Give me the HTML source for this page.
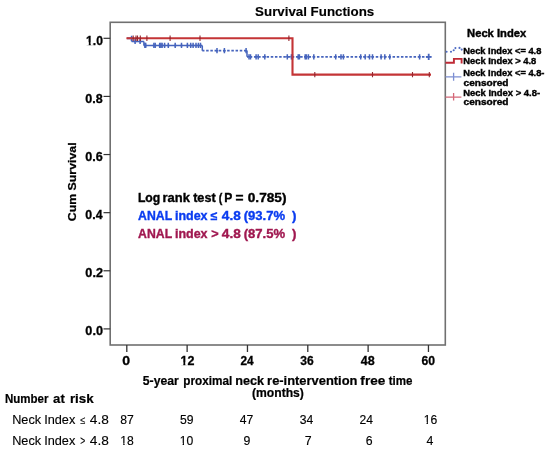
<!DOCTYPE html>
<html><head><meta charset="utf-8"><title>Survival Functions</title>
<style>html,body{margin:0;padding:0;background:#fff;width:550px;height:452px;overflow:hidden}</style>
</head><body>
<svg width="550" height="452" viewBox="0 0 550 452" style="display:block">
<rect width="550" height="452" fill="#fff"/>
<text x="255.14" y="15.8" font-family='"Liberation Sans", Arial, sans-serif' font-weight="bold" font-size="13.1" fill="#000" stroke="#000" stroke-width="0.15" textLength="119.08" lengthAdjust="spacingAndGlyphs" xml:space="preserve">Survival Functions</text>
<rect x="110.2" y="22.3" width="335.1" height="322.7" fill="none" stroke="#707070" stroke-width="1.6"/>
<line x1="103.5" y1="38.30" x2="110.2" y2="38.30" stroke="#333" stroke-width="1.2"/>
<text x="86.09" y="44.7" font-family='"Liberation Sans", Arial, sans-serif' font-weight="bold" font-size="12.8" fill="#000" stroke="#000" stroke-width="0.3" textLength="16.86" lengthAdjust="spacingAndGlyphs" xml:space="preserve">1.0</text>
<line x1="103.5" y1="96.42" x2="110.2" y2="96.42" stroke="#333" stroke-width="1.2"/>
<text x="85.35" y="102.82" font-family='"Liberation Sans", Arial, sans-serif' font-weight="bold" font-size="12.8" fill="#000" stroke="#000" stroke-width="0.3" textLength="17.48" lengthAdjust="spacingAndGlyphs" xml:space="preserve">0.8</text>
<line x1="103.5" y1="154.54" x2="110.2" y2="154.54" stroke="#333" stroke-width="1.2"/>
<text x="85.35" y="160.94" font-family='"Liberation Sans", Arial, sans-serif' font-weight="bold" font-size="12.8" fill="#000" stroke="#000" stroke-width="0.3" textLength="17.56" lengthAdjust="spacingAndGlyphs" xml:space="preserve">0.6</text>
<line x1="103.5" y1="212.66" x2="110.2" y2="212.66" stroke="#333" stroke-width="1.2"/>
<text x="85.36" y="219.06" font-family='"Liberation Sans", Arial, sans-serif' font-weight="bold" font-size="12.8" fill="#000" stroke="#000" stroke-width="0.3" textLength="17.15" lengthAdjust="spacingAndGlyphs" xml:space="preserve">0.4</text>
<line x1="103.5" y1="270.78" x2="110.2" y2="270.78" stroke="#333" stroke-width="1.2"/>
<text x="85.35" y="277.18" font-family='"Liberation Sans", Arial, sans-serif' font-weight="bold" font-size="12.8" fill="#000" stroke="#000" stroke-width="0.3" textLength="17.61" lengthAdjust="spacingAndGlyphs" xml:space="preserve">0.2</text>
<line x1="103.5" y1="328.90" x2="110.2" y2="328.90" stroke="#333" stroke-width="1.2"/>
<text x="85.35" y="335.3" font-family='"Liberation Sans", Arial, sans-serif' font-weight="bold" font-size="12.8" fill="#000" stroke="#000" stroke-width="0.3" textLength="17.62" lengthAdjust="spacingAndGlyphs" xml:space="preserve">0.0</text>
<line x1="126.80" y1="345" x2="126.80" y2="352" stroke="#333" stroke-width="1.3"/>
<text x="122.29" y="364.8" font-family='"Liberation Sans", Arial, sans-serif' font-weight="bold" font-size="13.2" fill="#000" stroke="#000" stroke-width="0.3" textLength="7.84" lengthAdjust="spacingAndGlyphs" xml:space="preserve">0</text>
<line x1="187.13" y1="345" x2="187.13" y2="352" stroke="#333" stroke-width="1.3"/>
<text x="180.56" y="364.8" font-family='"Liberation Sans", Arial, sans-serif' font-weight="bold" font-size="13.2" fill="#000" stroke="#000" stroke-width="0.3" textLength="13.89" lengthAdjust="spacingAndGlyphs" xml:space="preserve">12</text>
<line x1="247.46" y1="345" x2="247.46" y2="352" stroke="#333" stroke-width="1.3"/>
<text x="240.54" y="364.8" font-family='"Liberation Sans", Arial, sans-serif' font-weight="bold" font-size="13.2" fill="#000" stroke="#000" stroke-width="0.3" textLength="13.17" lengthAdjust="spacingAndGlyphs" xml:space="preserve">24</text>
<line x1="307.79" y1="345" x2="307.79" y2="352" stroke="#333" stroke-width="1.3"/>
<text x="300.27" y="364.8" font-family='"Liberation Sans", Arial, sans-serif' font-weight="bold" font-size="13.2" fill="#000" stroke="#000" stroke-width="0.3" textLength="13.41" lengthAdjust="spacingAndGlyphs" xml:space="preserve">36</text>
<line x1="368.12" y1="345" x2="368.12" y2="352" stroke="#333" stroke-width="1.3"/>
<text x="360.76" y="364.8" font-family='"Liberation Sans", Arial, sans-serif' font-weight="bold" font-size="13.2" fill="#000" stroke="#000" stroke-width="0.3" textLength="13.98" lengthAdjust="spacingAndGlyphs" xml:space="preserve">48</text>
<line x1="428.45" y1="345" x2="428.45" y2="352" stroke="#333" stroke-width="1.3"/>
<text x="421.60" y="364.8" font-family='"Liberation Sans", Arial, sans-serif' font-weight="bold" font-size="13.2" fill="#000" stroke="#000" stroke-width="0.3" textLength="13.55" lengthAdjust="spacingAndGlyphs" xml:space="preserve">60</text>
<text x="142.81" y="385.2" font-family='"Liberation Sans", Arial, sans-serif' font-weight="bold" font-size="12.3" fill="#000" stroke="#000" stroke-width="0.22" textLength="35.98" lengthAdjust="spacingAndGlyphs" xml:space="preserve">5-year</text>
<text x="183.32" y="385.2" font-family='"Liberation Sans", Arial, sans-serif' font-weight="bold" font-size="12.3" fill="#000" stroke="#000" stroke-width="0.22" textLength="48.92" lengthAdjust="spacingAndGlyphs" xml:space="preserve">proximal</text>
<text x="235.26" y="385.2" font-family='"Liberation Sans", Arial, sans-serif' font-weight="bold" font-size="12.3" fill="#000" stroke="#000" stroke-width="0.22" textLength="28.84" lengthAdjust="spacingAndGlyphs" xml:space="preserve">neck</text>
<text x="267.14" y="385.2" font-family='"Liberation Sans", Arial, sans-serif' font-weight="bold" font-size="12.3" fill="#000" stroke="#000" stroke-width="0.22" textLength="90.27" lengthAdjust="spacingAndGlyphs" xml:space="preserve">re-intervention</text>
<text x="360.36" y="385.2" font-family='"Liberation Sans", Arial, sans-serif' font-weight="bold" font-size="12.3" fill="#000" stroke="#000" stroke-width="0.22" textLength="24.92" lengthAdjust="spacingAndGlyphs" xml:space="preserve">free</text>
<text x="388.65" y="385.2" font-family='"Liberation Sans", Arial, sans-serif' font-weight="bold" font-size="12.3" fill="#000" stroke="#000" stroke-width="0.22" textLength="23.76" lengthAdjust="spacingAndGlyphs" xml:space="preserve">time</text>
<text x="251.99" y="397.1" font-family='"Liberation Sans", Arial, sans-serif' font-weight="bold" font-size="12.3" fill="#000" stroke="#000" stroke-width="0.22" textLength="51.93" lengthAdjust="spacingAndGlyphs" xml:space="preserve">(months)</text>
<text transform="translate(75.9,220.7) rotate(-90)" x="-0.51" y="0" font-family='"Liberation Sans", Arial, sans-serif' font-weight="bold" font-size="11.6" stroke="#000" stroke-width="0.25" textLength="78.78" lengthAdjust="spacingAndGlyphs">Cum Survival</text>
<line x1="127" y1="38.3" x2="131.6" y2="38.3" stroke="#4664bd" stroke-width="1.9"/>
<path d="M131.6,41.5 H143.9 M143.9,45.4 H202.3" stroke="#4664bd" stroke-width="1.5" fill="none"/>
<line x1="202.3" y1="50.7" x2="247" y2="50.7" stroke="#4664bd" stroke-width="1.7" stroke-dasharray="2.5 1.70" stroke-dashoffset="0.35"/>
<line x1="247" y1="56.8" x2="431.3" y2="56.8" stroke="#4664bd" stroke-width="1.7" stroke-dasharray="2.5 1.70" stroke-dashoffset="1.45"/>
<path d="M131.6,38.3 V41.5 M143.9,41.5 V45.4 M202.3,45.4 V50.7 M247,50.7 V56.8" stroke="#4664bd" stroke-width="1.5" fill="none"/>
<path d="M130.4,38.3 H132.79999999999998 M131.6,35.699999999999996 V40.9" stroke="#4664bd" stroke-width="1.5" fill="none"/>
<path d="M133.9,41.5 H136.29999999999998 M135.1,38.9 V44.1" stroke="#4664bd" stroke-width="1.5" fill="none"/>
<path d="M138.9,41.5 H141.29999999999998 M140.1,38.9 V44.1" stroke="#4664bd" stroke-width="1.5" fill="none"/>
<path d="M143.70000000000002,45.4 H146.1 M144.9,42.8 V48.0" stroke="#4664bd" stroke-width="1.5" fill="none"/>
<path d="M144.5,45.4 H146.89999999999998 M145.7,42.8 V48.0" stroke="#4664bd" stroke-width="1.5" fill="none"/>
<path d="M152.70000000000002,45.4 H155.1 M153.9,42.8 V48.0" stroke="#4664bd" stroke-width="1.5" fill="none"/>
<path d="M154.0,45.4 H156.39999999999998 M155.2,42.8 V48.0" stroke="#4664bd" stroke-width="1.5" fill="none"/>
<path d="M158.5,45.4 H160.89999999999998 M159.7,42.8 V48.0" stroke="#4664bd" stroke-width="1.5" fill="none"/>
<path d="M159.70000000000002,45.4 H162.1 M160.9,42.8 V48.0" stroke="#4664bd" stroke-width="1.5" fill="none"/>
<path d="M160.9,45.4 H163.29999999999998 M162.1,42.8 V48.0" stroke="#4664bd" stroke-width="1.5" fill="none"/>
<path d="M163.4,45.4 H165.79999999999998 M164.6,42.8 V48.0" stroke="#4664bd" stroke-width="1.5" fill="none"/>
<path d="M167.10000000000002,45.4 H169.5 M168.3,42.8 V48.0" stroke="#4664bd" stroke-width="1.5" fill="none"/>
<path d="M174.0,45.4 H176.39999999999998 M175.2,42.8 V48.0" stroke="#4664bd" stroke-width="1.5" fill="none"/>
<path d="M180.3,45.4 H182.7 M181.5,42.8 V48.0" stroke="#4664bd" stroke-width="1.5" fill="none"/>
<path d="M186.20000000000002,45.4 H188.6 M187.4,42.8 V48.0" stroke="#4664bd" stroke-width="1.5" fill="none"/>
<path d="M189.5,45.4 H191.89999999999998 M190.7,42.8 V48.0" stroke="#4664bd" stroke-width="1.5" fill="none"/>
<path d="M191.9,45.4 H194.29999999999998 M193.1,42.8 V48.0" stroke="#4664bd" stroke-width="1.5" fill="none"/>
<path d="M194.8,45.4 H197.2 M196,42.8 V48.0" stroke="#4664bd" stroke-width="1.5" fill="none"/>
<path d="M197.20000000000002,45.4 H199.6 M198.4,42.8 V48.0" stroke="#4664bd" stroke-width="1.5" fill="none"/>
<path d="M199.3,45.4 H201.7 M200.5,42.8 V48.0" stroke="#4664bd" stroke-width="1.5" fill="none"/>
<path d="M215.8,50.7 H218.2 M217,48.1 V53.300000000000004" stroke="#4664bd" stroke-width="1.5" fill="none"/>
<path d="M223.20000000000002,50.7 H225.6 M224.4,48.1 V53.300000000000004" stroke="#4664bd" stroke-width="1.5" fill="none"/>
<path d="M244.9,50.7 H247.29999999999998 M246.1,48.1 V53.300000000000004" stroke="#4664bd" stroke-width="1.5" fill="none"/>
<path d="M247.8,56.8 H250.2 M249,54.199999999999996 V59.4" stroke="#4664bd" stroke-width="1.5" fill="none"/>
<path d="M249.3,56.8 H251.7 M250.5,54.199999999999996 V59.4" stroke="#4664bd" stroke-width="1.5" fill="none"/>
<path d="M254.90000000000003,56.8 H257.3 M256.1,54.199999999999996 V59.4" stroke="#4664bd" stroke-width="1.5" fill="none"/>
<path d="M257.0,56.8 H259.4 M258.2,54.199999999999996 V59.4" stroke="#4664bd" stroke-width="1.5" fill="none"/>
<path d="M263.6,56.8 H266.0 M264.8,54.199999999999996 V59.4" stroke="#4664bd" stroke-width="1.5" fill="none"/>
<path d="M286.1,56.8 H288.5 M287.3,54.199999999999996 V59.4" stroke="#4664bd" stroke-width="1.5" fill="none"/>
<path d="M290.2,56.8 H292.59999999999997 M291.4,54.199999999999996 V59.4" stroke="#4664bd" stroke-width="1.5" fill="none"/>
<path d="M291.3,56.8 H293.7 M292.5,54.199999999999996 V59.4" stroke="#4664bd" stroke-width="1.5" fill="none"/>
<path d="M297.0,56.8 H299.4 M298.2,54.199999999999996 V59.4" stroke="#4664bd" stroke-width="1.5" fill="none"/>
<path d="M298.2,56.8 H300.59999999999997 M299.4,54.199999999999996 V59.4" stroke="#4664bd" stroke-width="1.5" fill="none"/>
<path d="M304.0,56.8 H306.4 M305.2,54.199999999999996 V59.4" stroke="#4664bd" stroke-width="1.5" fill="none"/>
<path d="M305.2,56.8 H307.59999999999997 M306.4,54.199999999999996 V59.4" stroke="#4664bd" stroke-width="1.5" fill="none"/>
<path d="M307.2,56.8 H309.59999999999997 M308.4,54.199999999999996 V59.4" stroke="#4664bd" stroke-width="1.5" fill="none"/>
<path d="M312.6,56.8 H315.0 M313.8,54.199999999999996 V59.4" stroke="#4664bd" stroke-width="1.5" fill="none"/>
<path d="M334.5,56.8 H336.9 M335.7,54.199999999999996 V59.4" stroke="#4664bd" stroke-width="1.5" fill="none"/>
<path d="M339.8,56.8 H342.2 M341,54.199999999999996 V59.4" stroke="#4664bd" stroke-width="1.5" fill="none"/>
<path d="M342.2,56.8 H344.59999999999997 M343.4,54.199999999999996 V59.4" stroke="#4664bd" stroke-width="1.5" fill="none"/>
<path d="M359.5,56.8 H361.9 M360.7,54.199999999999996 V59.4" stroke="#4664bd" stroke-width="1.5" fill="none"/>
<path d="M364.0,56.8 H366.4 M365.2,54.199999999999996 V59.4" stroke="#4664bd" stroke-width="1.5" fill="none"/>
<path d="M368.3,56.8 H370.7 M369.5,54.199999999999996 V59.4" stroke="#4664bd" stroke-width="1.5" fill="none"/>
<path d="M371.3,56.8 H373.7 M372.5,54.199999999999996 V59.4" stroke="#4664bd" stroke-width="1.5" fill="none"/>
<path d="M379.90000000000003,56.8 H382.3 M381.1,54.199999999999996 V59.4" stroke="#4664bd" stroke-width="1.5" fill="none"/>
<path d="M383.6,56.8 H386.0 M384.8,54.199999999999996 V59.4" stroke="#4664bd" stroke-width="1.5" fill="none"/>
<path d="M388.6,56.8 H391.0 M389.8,54.199999999999996 V59.4" stroke="#4664bd" stroke-width="1.5" fill="none"/>
<path d="M418.40000000000003,56.8 H420.8 M419.6,54.199999999999996 V59.4" stroke="#4664bd" stroke-width="1.5" fill="none"/>
<path d="M425.9,56.8 H431.5 M428.7,53.699999999999996 V59.9" stroke="#4664bd" stroke-width="1.8" fill="none"/>
<path d="M126.4,38.3 H292.5 V74.6 H431" fill="none" stroke="#c43436" stroke-width="2.1"/>
<path d="M132.39999999999998,38.3 H134.0 M133.2,35.599999999999994 V41.0" stroke="#962830" stroke-width="1.1" fill="none"/>
<path d="M135.2,38.3 H136.8 M136,35.599999999999994 V41.0" stroke="#962830" stroke-width="1.1" fill="none"/>
<path d="M136.7,38.3 H138.3 M137.5,35.599999999999994 V41.0" stroke="#962830" stroke-width="1.1" fill="none"/>
<path d="M139.5,38.3 H141.10000000000002 M140.3,35.599999999999994 V41.0" stroke="#962830" stroke-width="1.1" fill="none"/>
<path d="M146.1,38.3 H147.70000000000002 M146.9,35.599999999999994 V41.0" stroke="#962830" stroke-width="1.1" fill="none"/>
<path d="M169.29999999999998,38.3 H170.9 M170.1,35.599999999999994 V41.0" stroke="#962830" stroke-width="1.1" fill="none"/>
<path d="M199.2,38.3 H200.8 M200,35.599999999999994 V41.0" stroke="#962830" stroke-width="1.1" fill="none"/>
<path d="M288.09999999999997,38.3 H289.7 M288.9,35.599999999999994 V41.0" stroke="#962830" stroke-width="1.1" fill="none"/>
<path d="M314.0,74.6 H315.6 M314.8,71.89999999999999 V77.3" stroke="#962830" stroke-width="1.1" fill="none"/>
<path d="M371.7,74.6 H373.3 M372.5,71.89999999999999 V77.3" stroke="#962830" stroke-width="1.1" fill="none"/>
<path d="M411.7,74.6 H413.3 M412.5,71.89999999999999 V77.3" stroke="#962830" stroke-width="1.1" fill="none"/>
<path d="M428.5,74.6 H430.1 M429.3,71.89999999999999 V77.3" stroke="#962830" stroke-width="1.1" fill="none"/>
<text x="137.91" y="202" font-family='"Liberation Sans", Arial, sans-serif' font-weight="bold" font-size="12.2" fill="#000" stroke="#000" stroke-width="0.35" textLength="22.38" lengthAdjust="spacingAndGlyphs" xml:space="preserve">Log</text>
<text x="162.57" y="202" font-family='"Liberation Sans", Arial, sans-serif' font-weight="bold" font-size="12.2" fill="#000" stroke="#000" stroke-width="0.35" textLength="27.39" lengthAdjust="spacingAndGlyphs" xml:space="preserve">rank</text>
<text x="193.17" y="202" font-family='"Liberation Sans", Arial, sans-serif' font-weight="bold" font-size="12.2" fill="#000" stroke="#000" stroke-width="0.35" textLength="22.46" lengthAdjust="spacingAndGlyphs" xml:space="preserve">test</text>
<text x="218.79" y="202" font-family='"Liberation Sans", Arial, sans-serif' font-weight="bold" font-size="12.2" fill="#000" stroke="#000" stroke-width="0.35" textLength="3.60" lengthAdjust="spacingAndGlyphs" xml:space="preserve">(</text>
<text x="224.32" y="202" font-family='"Liberation Sans", Arial, sans-serif' font-weight="bold" font-size="12.2" fill="#000" stroke="#000" stroke-width="0.35" textLength="8.07" lengthAdjust="spacingAndGlyphs" xml:space="preserve">P</text>
<text x="235.46" y="202" font-family='"Liberation Sans", Arial, sans-serif' font-weight="bold" font-size="12.2" fill="#000" stroke="#000" stroke-width="0.35" textLength="7.98" lengthAdjust="spacingAndGlyphs" xml:space="preserve">=</text>
<text x="247.79" y="202" font-family='"Liberation Sans", Arial, sans-serif' font-weight="bold" font-size="12.2" fill="#000" stroke="#000" stroke-width="0.35" textLength="38.67" lengthAdjust="spacingAndGlyphs" xml:space="preserve">0.785)</text>
<text x="138.12" y="220.1" font-family='"Liberation Sans", Arial, sans-serif' font-weight="bold" font-size="12.2" fill="#0a3cf0" stroke="#0a3cf0" stroke-width="0.35" textLength="34.03" lengthAdjust="spacingAndGlyphs" xml:space="preserve">ANAL</text>
<text x="174.95" y="220.1" font-family='"Liberation Sans", Arial, sans-serif' font-weight="bold" font-size="12.2" fill="#0a3cf0" stroke="#0a3cf0" stroke-width="0.35" textLength="32.61" lengthAdjust="spacingAndGlyphs" xml:space="preserve">index</text>
<text x="210.83" y="220.1" font-family='"Liberation Sans", Arial, sans-serif' font-weight="bold" font-size="12.2" fill="#0a3cf0" stroke="#0a3cf0" stroke-width="0.35" textLength="6.74" lengthAdjust="spacingAndGlyphs" xml:space="preserve">≤</text>
<text x="221.82" y="220.1" font-family='"Liberation Sans", Arial, sans-serif' font-weight="bold" font-size="12.2" fill="#0a3cf0" stroke="#0a3cf0" stroke-width="0.35" textLength="18.98" lengthAdjust="spacingAndGlyphs" xml:space="preserve">4.8</text>
<text x="243.67" y="220.1" font-family='"Liberation Sans", Arial, sans-serif' font-weight="bold" font-size="12.2" fill="#0a3cf0" stroke="#0a3cf0" stroke-width="0.35" textLength="41.45" lengthAdjust="spacingAndGlyphs" xml:space="preserve">(93.7%</text>
<text x="292.11" y="220.1" font-family='"Liberation Sans", Arial, sans-serif' font-weight="bold" font-size="12.2" fill="#0a3cf0" stroke="#0a3cf0" stroke-width="0.35" textLength="4.42" lengthAdjust="spacingAndGlyphs" xml:space="preserve">)</text>
<text x="138.12" y="237.8" font-family='"Liberation Sans", Arial, sans-serif' font-weight="bold" font-size="12.2" fill="#a01850" stroke="#a01850" stroke-width="0.35" textLength="34.03" lengthAdjust="spacingAndGlyphs" xml:space="preserve">ANAL</text>
<text x="174.95" y="237.8" font-family='"Liberation Sans", Arial, sans-serif' font-weight="bold" font-size="12.2" fill="#a01850" stroke="#a01850" stroke-width="0.35" textLength="32.61" lengthAdjust="spacingAndGlyphs" xml:space="preserve">index</text>
<text x="211.29" y="237.8" font-family='"Liberation Sans", Arial, sans-serif' font-weight="bold" font-size="12.2" fill="#a01850" stroke="#a01850" stroke-width="0.35" textLength="7.39" lengthAdjust="spacingAndGlyphs" xml:space="preserve">&gt;</text>
<text x="221.82" y="237.8" font-family='"Liberation Sans", Arial, sans-serif' font-weight="bold" font-size="12.2" fill="#a01850" stroke="#a01850" stroke-width="0.35" textLength="18.98" lengthAdjust="spacingAndGlyphs" xml:space="preserve">4.8</text>
<text x="243.67" y="237.8" font-family='"Liberation Sans", Arial, sans-serif' font-weight="bold" font-size="12.2" fill="#a01850" stroke="#a01850" stroke-width="0.35" textLength="41.45" lengthAdjust="spacingAndGlyphs" xml:space="preserve">(87.5%</text>
<text x="292.11" y="237.8" font-family='"Liberation Sans", Arial, sans-serif' font-weight="bold" font-size="12.2" fill="#a01850" stroke="#a01850" stroke-width="0.35" textLength="4.42" lengthAdjust="spacingAndGlyphs" xml:space="preserve">)</text>
<text x="467.05" y="37" font-family='"Liberation Sans", Arial, sans-serif' font-weight="bold" font-size="11" fill="#000" stroke="#000" stroke-width="0.4" textLength="59.23" lengthAdjust="spacingAndGlyphs" xml:space="preserve">Neck Index</text>
<circle cx="446.6" cy="51.8" r="1.05" fill="#4f6cc4"/>
<circle cx="451" cy="51.8" r="1.05" fill="#4f6cc4"/>
<circle cx="453.7" cy="50.3" r="1.05" fill="#4f6cc4"/>
<circle cx="455.4" cy="48.1" r="1.05" fill="#4f6cc4"/>
<circle cx="459.5" cy="47.9" r="1.05" fill="#4f6cc4"/>
<circle cx="461.7" cy="49.6" r="1.05" fill="#4f6cc4"/>
<path d="M445.5,62.7 H453.9 V58.9 H461.6 V63.4" fill="none" stroke="#bf2a36" stroke-width="1.9"/>
<path d="M445.5,76.8 H461.4 M453.6,72.7 V80.7" stroke="#7d8fd2" stroke-width="1.3" fill="none"/>
<path d="M445.5,97.1 H461.4 M453.6,92.9 V100.5" stroke="#d46878" stroke-width="1.3" fill="none"/>
<text x="463.30" y="53.6" font-family='"Liberation Sans", Arial, sans-serif' font-weight="bold" font-size="8.3" fill="#000" stroke="#000" stroke-width="0.35" textLength="78.06" lengthAdjust="spacingAndGlyphs" xml:space="preserve">Neck Index &lt;= 4.8</text>
<text x="463.30" y="64.3" font-family='"Liberation Sans", Arial, sans-serif' font-weight="bold" font-size="8.3" fill="#000" stroke="#000" stroke-width="0.35" textLength="72.96" lengthAdjust="spacingAndGlyphs" xml:space="preserve">Neck Index &gt; 4.8</text>
<text x="463.30" y="75.9" font-family='"Liberation Sans", Arial, sans-serif' font-weight="bold" font-size="8.3" fill="#000" stroke="#000" stroke-width="0.35" textLength="81.14" lengthAdjust="spacingAndGlyphs" xml:space="preserve">Neck Index &lt;= 4.8-</text>
<text x="463.53" y="85.7" font-family='"Liberation Sans", Arial, sans-serif' font-weight="bold" font-size="8.3" fill="#000" stroke="#000" stroke-width="0.35" textLength="44.91" lengthAdjust="spacingAndGlyphs" xml:space="preserve">censored</text>
<text x="463.29" y="95.9" font-family='"Liberation Sans", Arial, sans-serif' font-weight="bold" font-size="8.3" fill="#000" stroke="#000" stroke-width="0.35" textLength="76.76" lengthAdjust="spacingAndGlyphs" xml:space="preserve">Neck Index &gt; 4.8-</text>
<text x="463.53" y="105.4" font-family='"Liberation Sans", Arial, sans-serif' font-weight="bold" font-size="8.3" fill="#000" stroke="#000" stroke-width="0.35" textLength="44.91" lengthAdjust="spacingAndGlyphs" xml:space="preserve">censored</text>
<text x="4.93" y="402.6" font-family='"Liberation Sans", Arial, sans-serif' font-weight="bold" font-size="12" fill="#000" stroke="#000" stroke-width="0.2" textLength="43.55" lengthAdjust="spacingAndGlyphs" xml:space="preserve">Number</text>
<text x="53.12" y="402.6" font-family='"Liberation Sans", Arial, sans-serif' font-weight="bold" font-size="12" fill="#000" stroke="#000" stroke-width="0.2" textLength="11.64" lengthAdjust="spacingAndGlyphs" xml:space="preserve">at</text>
<text x="69.92" y="402.6" font-family='"Liberation Sans", Arial, sans-serif' font-weight="bold" font-size="12" fill="#000" stroke="#000" stroke-width="0.2" textLength="23.77" lengthAdjust="spacingAndGlyphs" xml:space="preserve">risk</text>
<text x="12.20" y="423.6" font-family='"Liberation Sans", Arial, sans-serif' font-size="12" fill="#000" stroke="#000" stroke-width="0.12" textLength="28.94" lengthAdjust="spacingAndGlyphs" xml:space="preserve">Neck</text>
<text x="12.20" y="444.9" font-family='"Liberation Sans", Arial, sans-serif' font-size="12" fill="#000" stroke="#000" stroke-width="0.12" textLength="28.94" lengthAdjust="spacingAndGlyphs" xml:space="preserve">Neck</text>
<text x="44.17" y="423.6" font-family='"Liberation Sans", Arial, sans-serif' font-size="12" fill="#000" stroke="#000" stroke-width="0.12" textLength="31.13" lengthAdjust="spacingAndGlyphs" xml:space="preserve">Index</text>
<text x="44.17" y="444.9" font-family='"Liberation Sans", Arial, sans-serif' font-size="12" fill="#000" stroke="#000" stroke-width="0.12" textLength="31.13" lengthAdjust="spacingAndGlyphs" xml:space="preserve">Index</text>
<text x="89.83" y="423.6" font-family='"Liberation Sans", Arial, sans-serif' font-size="12" fill="#000" stroke="#000" stroke-width="0.12" textLength="19.03" lengthAdjust="spacingAndGlyphs" xml:space="preserve">4.8</text>
<text x="89.83" y="444.9" font-family='"Liberation Sans", Arial, sans-serif' font-size="12" fill="#000" stroke="#000" stroke-width="0.12" textLength="19.03" lengthAdjust="spacingAndGlyphs" xml:space="preserve">4.8</text>
<text x="80.05" y="424.1" font-family='"Liberation Sans", Arial, sans-serif' font-size="11" fill="#000" stroke="#000" stroke-width="0.12" textLength="5.10" lengthAdjust="spacingAndGlyphs" xml:space="preserve">≤</text>
<text x="80.32" y="444.9" font-family='"Liberation Sans", Arial, sans-serif' font-size="13" fill="#000" stroke="#000" stroke-width="0.12" textLength="4.95" lengthAdjust="spacingAndGlyphs" xml:space="preserve">&gt;</text>
<text x="120.19" y="423.9" font-family='"Liberation Sans", Arial, sans-serif' font-size="12" fill="#000" stroke="#000" stroke-width="0.15" textLength="13.51" lengthAdjust="spacingAndGlyphs" xml:space="preserve">87</text>
<text x="180.09" y="423.9" font-family='"Liberation Sans", Arial, sans-serif' font-size="12" fill="#000" stroke="#000" stroke-width="0.15" textLength="13.51" lengthAdjust="spacingAndGlyphs" xml:space="preserve">59</text>
<text x="239.81" y="423.9" font-family='"Liberation Sans", Arial, sans-serif' font-size="12" fill="#000" stroke="#000" stroke-width="0.15" textLength="13.51" lengthAdjust="spacingAndGlyphs" xml:space="preserve">47</text>
<text x="299.79" y="423.9" font-family='"Liberation Sans", Arial, sans-serif' font-size="12" fill="#000" stroke="#000" stroke-width="0.15" textLength="13.51" lengthAdjust="spacingAndGlyphs" xml:space="preserve">34</text>
<text x="359.42" y="423.9" font-family='"Liberation Sans", Arial, sans-serif' font-size="12" fill="#000" stroke="#000" stroke-width="0.15" textLength="13.51" lengthAdjust="spacingAndGlyphs" xml:space="preserve">24</text>
<text x="423.65" y="423.9" font-family='"Liberation Sans", Arial, sans-serif' font-size="12" fill="#000" stroke="#000" stroke-width="0.15" textLength="13.52" lengthAdjust="spacingAndGlyphs" xml:space="preserve">16</text>
<text x="120.34" y="444.9" font-family='"Liberation Sans", Arial, sans-serif' font-size="12" fill="#000" stroke="#000" stroke-width="0.15" textLength="13.52" lengthAdjust="spacingAndGlyphs" xml:space="preserve">18</text>
<text x="179.72" y="444.9" font-family='"Liberation Sans", Arial, sans-serif' font-size="12" fill="#000" stroke="#000" stroke-width="0.15" textLength="13.51" lengthAdjust="spacingAndGlyphs" xml:space="preserve">10</text>
<text x="243.58" y="444.9" font-family='"Liberation Sans", Arial, sans-serif' font-size="12" fill="#000" stroke="#000" stroke-width="0.15" textLength="6.85" lengthAdjust="spacingAndGlyphs" xml:space="preserve">9</text>
<text x="304.77" y="444.9" font-family='"Liberation Sans", Arial, sans-serif' font-size="12" fill="#000" stroke="#000" stroke-width="0.15" textLength="6.86" lengthAdjust="spacingAndGlyphs" xml:space="preserve">7</text>
<text x="365.73" y="444.9" font-family='"Liberation Sans", Arial, sans-serif' font-size="12" fill="#000" stroke="#000" stroke-width="0.15" textLength="6.85" lengthAdjust="spacingAndGlyphs" xml:space="preserve">6</text>
<text x="426.52" y="444.9" font-family='"Liberation Sans", Arial, sans-serif' font-size="12" fill="#000" stroke="#000" stroke-width="0.15" textLength="6.84" lengthAdjust="spacingAndGlyphs" xml:space="preserve">4</text>
<rect x="85.90" y="42.29" width="2.87" height="3.21" fill="#fff"/>
<rect x="90.73" y="42.29" width="2.12" height="3.21" fill="#fff"/>
<rect x="180.37" y="362.35" width="2.95" height="3.25" fill="#fff"/>
<rect x="185.34" y="362.35" width="2.18" height="3.25" fill="#fff"/>
<rect x="423.62" y="421.90" width="2.93" height="2.80" fill="#fff"/>
<rect x="427.92" y="421.90" width="2.24" height="2.80" fill="#fff"/>
<rect x="120.32" y="442.90" width="2.93" height="2.80" fill="#fff"/>
<rect x="124.62" y="442.90" width="2.24" height="2.80" fill="#fff"/>
<rect x="179.69" y="442.90" width="2.93" height="2.80" fill="#fff"/>
<rect x="183.99" y="442.90" width="2.24" height="2.80" fill="#fff"/>
</svg>
</body></html>
